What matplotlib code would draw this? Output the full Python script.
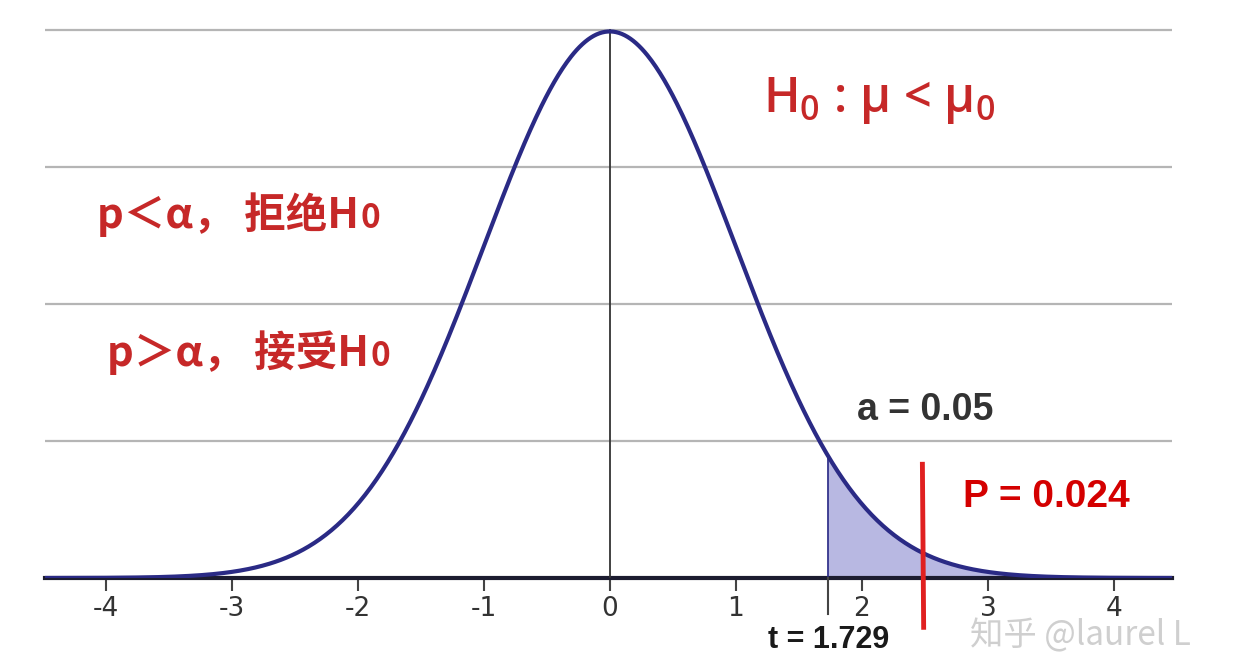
import numpy as np
import matplotlib.pyplot as plt

# parameters of the distribution and the test
mu = 0.0
sigma = 1.0
t_stat = 1.729
p_line = 2.48
x_lo, x_hi = -4.48, 4.46
tick_vals = [-4, -3, -2, -1, 0, 1, 2, 3, 4]
tick_labels = ["-4", "-3", "-2", "-1", "0", "1", "2", "3", "4"]
grid_levels = [0.1, 0.2, 0.3, 0.4]

navy = "#2a2a85"
red_txt = "#c62828"

plt.rcParams["mathtext.fontset"] = "custom"
plt.rcParams["mathtext.rm"] = "Open Sans:semibold"

fig = plt.figure(figsize=(12.52, 6.62), dpi=100)
ax = fig.add_axes([45 / 1252, 84 / 662, (1172 - 45) / 1252, (662 - 84 - 16.3) / 662])

x = np.linspace(x_lo, x_hi, 800)
y = np.exp(-0.5 * ((x - mu) / sigma) ** 2) / (sigma * np.sqrt(2 * np.pi))

# shaded tail
xs = x[x >= t_stat]
ys = y[x >= t_stat]
xs = np.concatenate([[t_stat], xs])
ys = np.concatenate([[np.exp(-0.5 * t_stat ** 2) / np.sqrt(2 * np.pi)], ys])
ax.fill_between(xs, 0, ys, color="#b8b8e2", zorder=2)
ax.plot([t_stat, t_stat], [0, ys[0]], color=navy, lw=1.2, zorder=3)
ax.plot([t_stat, t_stat], [0, -0.026], color="#444444", lw=1.5, clip_on=False, zorder=3)

ax.plot(x, y, color=navy, lw=3, zorder=4)
ax.plot([0, 0], [0, 0.4], color="#333333", lw=1.3, zorder=3)

# red p line
ax.plot([p_line, p_line + 0.01], [0.083, -0.036], color="#e02020", lw=3.5,
        clip_on=False, zorder=5)

ax.set_xlim(x_lo, x_hi)
ax.set_ylim(0, 0.41)
ax.set_yticks(grid_levels)
ax.yaxis.grid(True, color="#b5b5b5", lw=1.6)
ax.tick_params(axis="y", left=False, labelleft=False)
ax.set_xticks(tick_vals)
ax.set_xticklabels(tick_labels, family=["Liberation Sans Narrow", "DejaVu Sans"],
                   fontsize=19, color="#333333")
ax.tick_params(axis="x", length=9, width=1.5, color="#444444", pad=4)
for s in ["left", "right", "top"]:
    ax.spines[s].set_visible(False)
ax.spines["bottom"].set_linewidth(3)
ax.spines["bottom"].set_color("#1c1c30")
ax.set_axisbelow(True)

# annotations
fig.text(763 / 1252, 1 - 100 / 662, r"H$_0$ : μ < μ$_0$", color=red_txt, fontsize=35,
         family=["Open Sans", "DejaVu Sans"], weight="semibold", va="center", ha="left")

cjk = ["Noto Sans CJK SC", "DejaVu Sans"]
for ypix, xpix, s in [(215, 97, "p＜α， 拒绝H"), (353, 107, "p＞α， 接受H")]:
    t1 = fig.text(xpix / 1252, 1 - ypix / 662, s, color=red_txt, fontsize=30,
                  weight="bold", family=cjk, va="center", ha="left")
    fig.draw_without_rendering()
    ax.annotate("0", xy=(1, 0), xycoords=t1, xytext=(1, 2), textcoords="offset points",
                color=red_txt, fontsize=24, weight="bold", family=cjk,
                va="bottom", ha="left", annotation_clip=False)

fig.text(857 / 1252, 1 - 410 / 662, "a = 0.05", color="#333333", fontsize=27,
         weight="bold", family=["Liberation Sans", "DejaVu Sans"], va="center", ha="left")
fig.text(963 / 1252, 1 - 497 / 662, "P = 0.024", color="#d40000", fontsize=28,
         weight="bold", family=["Liberation Sans", "DejaVu Sans"], va="center", ha="left")
fig.text(768 / 1252, 1 - 640 / 662, "t = 1.729", color="#1a1a1a", fontsize=22,
         weight="bold", family=["Liberation Sans Narrow", "Liberation Sans"], va="center", ha="left")
fig.text(970 / 1252, 1 - 636 / 662, "知乎 @laurel L", color="#cfcfcf", fontsize=24,
         family=cjk, va="center", ha="left")

fig.savefig("out.png", dpi=100)
